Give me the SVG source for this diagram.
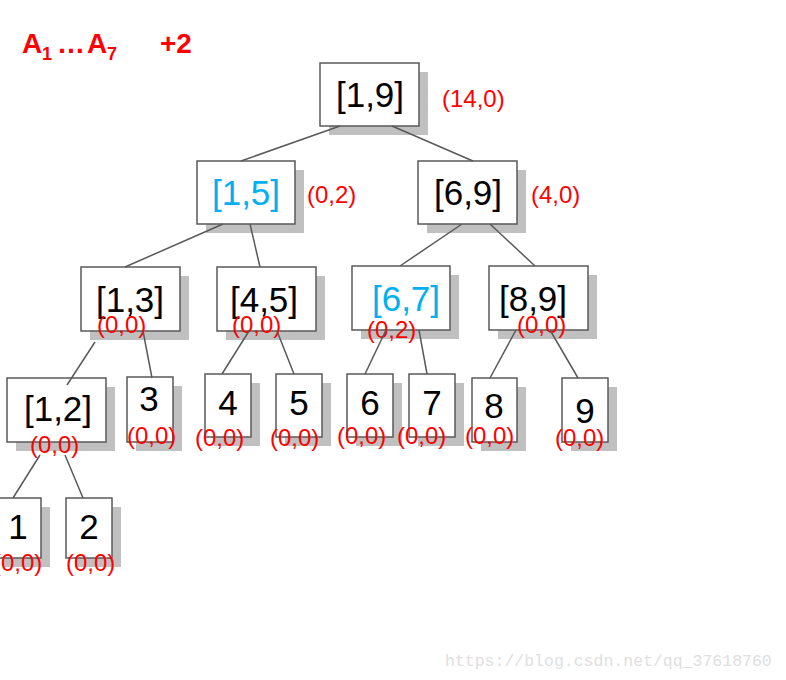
<svg xmlns="http://www.w3.org/2000/svg" width="786" height="680" viewBox="0 0 786 680">
<style>
.sh{fill:#c0c0c0}
.bx{fill:#fff;stroke:#595959;stroke-width:1.5}
.t{font-family:"Liberation Sans",Arial,sans-serif;font-size:35px;fill:#000;text-anchor:middle}
.c{fill:#00b0f0}
.r{font-family:"Liberation Sans",Arial,sans-serif;font-size:24px;fill:#ff0000}
.e line{stroke:#595959;stroke-width:1.5}
.ttl{font-family:"Liberation Sans",Arial,sans-serif;font-weight:bold;fill:#ff0000}
</style>
<rect width="786" height="680" fill="#fff"/>
<g id="title" class="ttl">
<text x="22" y="53" font-size="28">A</text><text x="42" y="60" font-size="18">1</text>
<text x="57" y="53" font-size="28">…</text>
<text x="87" y="53" font-size="28">A</text><text x="107" y="60" font-size="18">7</text>
<text x="160" y="53" font-size="28">+2</text>
</g>
<g id="n19"><rect class="sh" x="329" y="72" width="99" height="63"/><rect class="bx" x="320" y="63" width="99" height="63"/><text class="t" x="370" y="107">[1,9]</text><text class="r" x="442" y="107">(14,0)</text></g>
<g id="n15"><rect class="sh" x="206" y="170" width="98" height="63"/><rect class="bx" x="197" y="161" width="98" height="63"/><text class="t c" x="246" y="205">[1,5]</text><text class="r" x="307" y="203">(0,2)</text></g>
<g id="n69"><rect class="sh" x="427" y="170" width="99" height="63"/><rect class="bx" x="418" y="161" width="99" height="63"/><text class="t" x="468" y="205">[6,9]</text><text class="r" x="531" y="203">(4,0)</text></g>
<g id="n13"><rect class="sh" x="90" y="276" width="99" height="64"/><rect class="bx" x="81" y="267" width="99" height="64"/><text class="t" x="130" y="312">[1,3]</text><text class="r" x="97" y="333">(0,0)</text></g>
<g id="n45"><rect class="sh" x="226" y="276" width="99" height="64"/><rect class="bx" x="217" y="267" width="99" height="64"/><text class="t" x="264" y="312">[4,5]</text><text class="r" x="232" y="333">(0,0)</text></g>
<g id="n67"><rect class="sh" x="361" y="275" width="98" height="64"/><rect class="bx" x="352" y="266" width="98" height="64"/><text class="t c" x="406" y="311">[6,7]</text><text class="r" x="367" y="338">(0,2)</text></g>
<g id="n89"><rect class="sh" x="498" y="275" width="99" height="64"/><rect class="bx" x="489" y="266" width="99" height="64"/><text class="t" x="533" y="311">[8,9]</text><text class="r" x="517" y="333">(0,0)</text></g>
<g id="n12"><rect class="sh" x="16" y="387" width="99" height="64"/><rect class="bx" x="7" y="378" width="99" height="64"/><text class="t" x="58" y="421">[1,2]</text><text class="r" x="30" y="453">(0,0)</text></g>
<g id="n3"><rect class="sh" x="136" y="386" width="46" height="65"/><rect class="bx" x="127" y="377" width="46" height="65"/><text class="t" x="149" y="411">3</text><text class="r" x="127" y="444">(0,0)</text></g>
<g id="n4"><rect class="sh" x="214" y="383" width="46" height="63"/><rect class="bx" x="205" y="374" width="46" height="63"/><text class="t" x="228" y="415">4</text><text class="r" x="195" y="446">(0,0)</text></g>
<g id="n5"><rect class="sh" x="285" y="383" width="46" height="63"/><rect class="bx" x="276" y="374" width="46" height="63"/><text class="t" x="299" y="415">5</text><text class="r" x="270" y="446">(0,0)</text></g>
<g id="n6"><rect class="sh" x="356" y="383" width="46" height="63"/><rect class="bx" x="347" y="374" width="46" height="63"/><text class="t" x="370" y="415">6</text><text class="r" x="337" y="444">(0,0)</text></g>
<g id="n7"><rect class="sh" x="418" y="383" width="46" height="63"/><rect class="bx" x="409" y="374" width="46" height="63"/><text class="t" x="432" y="415">7</text><text class="r" x="397" y="444">(0,0)</text></g>
<g id="n8"><rect class="sh" x="481" y="387" width="45" height="64"/><rect class="bx" x="472" y="378" width="45" height="64"/><text class="t" x="494" y="418">8</text><text class="r" x="465" y="444">(0,0)</text></g>
<g id="n9"><rect class="sh" x="571" y="387" width="46" height="64"/><rect class="bx" x="562" y="378" width="46" height="64"/><text class="t" x="585" y="423">9</text><text class="r" x="555" y="446">(0,0)</text></g>
<g id="n1"><rect class="sh" x="4" y="507" width="46" height="60"/><rect class="bx" x="-5" y="498" width="46" height="60"/><text class="t" x="18" y="539">1</text><text class="r" x="-7" y="571">(0,0)</text></g>
<g id="n2"><rect class="sh" x="75" y="507" width="46" height="60"/><rect class="bx" x="66" y="498" width="46" height="60"/><text class="t" x="89" y="539">2</text><text class="r" x="66" y="571">(0,0)</text></g>
<g id="edges" class="e">
<line x1="340" y1="126" x2="241" y2="161"/>
<line x1="392" y1="126" x2="473" y2="161"/>
<line x1="223" y1="224" x2="125" y2="267"/>
<line x1="250" y1="224" x2="260" y2="267"/>
<line x1="462" y1="224" x2="400" y2="266"/>
<line x1="490" y1="224" x2="535" y2="266"/>
<line x1="95" y1="342" x2="67" y2="385"/>
<line x1="143" y1="331" x2="152" y2="378"/>
<line x1="249" y1="331" x2="222" y2="374"/>
<line x1="277" y1="331" x2="294" y2="374"/>
<line x1="386" y1="330" x2="365" y2="374"/>
<line x1="419" y1="330" x2="427" y2="374"/>
<line x1="516" y1="330" x2="490" y2="378"/>
<line x1="550" y1="330" x2="578" y2="378"/>
<line x1="40" y1="455" x2="13" y2="498"/>
<line x1="65" y1="455" x2="83" y2="498"/>
</g>
<text x="445" y="666" font-family="Liberation Mono,monospace" font-size="16.5" fill="#e0e0e0">https://blog.csdn.net/qq_37618760</text>
</svg>
